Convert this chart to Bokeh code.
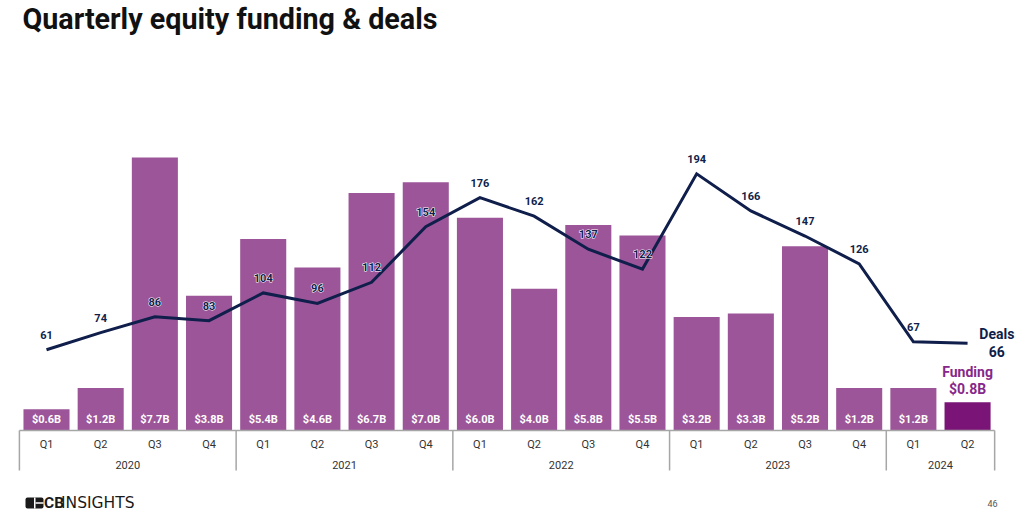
from bokeh.plotting import figure
from bokeh.models import Range1d, Label, BoxAnnotation, ColumnDataSource
from bokeh.core.properties import value
from bokeh.embed import file_html
from bokeh.resources import INLINE
import numpy as np

# ---- data -------------------------------------------------------------
quarters = ["Q1", "Q2", "Q3", "Q4", "Q1", "Q2", "Q3", "Q4", "Q1", "Q2", "Q3", "Q4",
            "Q1", "Q2", "Q3", "Q4", "Q1", "Q2"]
years = ["2020", "2021", "2022", "2023", "2024"]
quarters_per_year = [4, 4, 4, 4, 2]
funding_b = [0.6, 1.2, 7.7, 3.8, 5.4, 4.6, 6.7, 7.0, 6.0, 4.0, 5.8, 5.5,
             3.2, 3.3, 5.2, 1.2, 1.2, 0.8]
deals = [61, 74, 86, 83, 104, 96, 112, 154, 176, 162, 137, 122,
         194, 166, 147, 126, 67, 66]

# ---- layout constants (pixels) -----------------------------------------
W, H = 1024, 519
BASE_PX = 430            # baseline of the bars, from top
FIRST_X = 46             # centre of the first bar
STEP = 54.18             # distance between bar centres
PX_PER_B = 35.45         # pixels per $1B of funding
PX_PER_DEAL = 1.323      # pixels per deal

BAR_COLOR = "#9b5598"
LAST_COLOR = "#7a1577"
LINE_COLOR = "#0f1e4a"
FUND_TXT = "#87278a"
AXIS_GRAY = "#a6a6a6"
FONT = "Roboto"

n = len(funding_b)
x = np.arange(n)

p = figure(width=W, height=H, output_backend="svg", toolbar_location=None,
           x_axis_type=None, y_axis_type=None, min_border=0,
           x_range=Range1d(-FIRST_X / STEP, (W - FIRST_X) / STEP),
           y_range=Range1d(-(H - BASE_PX) / PX_PER_B, BASE_PX / PX_PER_B))
p.outline_line_color = None
p.grid.visible = False
p.background_fill_color = "white"
p.border_fill_color = "white"
p.extra_y_ranges = {"deals": Range1d(-(H - BASE_PX) / PX_PER_DEAL, BASE_PX / PX_PER_DEAL)}

colors = [BAR_COLOR] * (n - 1) + [LAST_COLOR]
src = ColumnDataSource(dict(x=x, funding=funding_b, deals=deals, color=colors))

# funding bars
p.vbar(x="x", top="funding", width=0.85, bottom=0, fill_color="color",
       line_color=None, source=src)

# funding values inside the bars (last bar is labelled at the right instead)
bar_lab = ColumnDataSource(dict(x=x[:-1], y=[0] * (n - 1),
                                t=[f"${v:.1f}B" for v in funding_b[:-1]]))
p.text(x="x", y="y", text="t", source=bar_lab, y_offset=-11,
       text_align="center", text_baseline="middle",
       text_font=value(FONT), text_font_style="bold", text_font_size="11px",
       text_color="white")

# deals line
p.line(x="x", y="deals", source=src, y_range_name="deals",
       line_color=LINE_COLOR, line_width=3, line_join="miter")

# deal counts: a white halo layer under the navy text
deal_lab = ColumnDataSource(dict(x=x[:-1], y=deals[:-1], t=[str(d) for d in deals[:-1]]))
common = dict(x="x", y="y", text="t", source=deal_lab, y_range_name="deals", y_offset=-15,
              text_align="center", text_baseline="middle",
              text_font=value(FONT), text_font_style="bold", text_font_size="11px")
p.text(text_color="white", text_outline_color="white", **common)
p.text(text_color=LINE_COLOR, **common)

# category axis: baseline, group separators, quarter and year labels
p.segment(x0=[-0.5], y0=[0], x1=[n - 0.5], y1=[0], line_color=AXIS_GRAY, line_width=1.5)
bounds = np.concatenate([[0], np.cumsum(quarters_per_year)]) - 0.5
sep_bottom = -40 / PX_PER_B
p.segment(x0=bounds, y0=[0] * len(bounds), x1=bounds, y1=[sep_bottom] * len(bounds),
          line_color=AXIS_GRAY, line_width=1.5)

q_src = ColumnDataSource(dict(x=x, y=[0] * n, t=quarters))
p.text(x="x", y="y", text="t", source=q_src, y_offset=14,
       text_align="center", text_baseline="middle",
       text_font=value(FONT), text_font_size="11px", text_color="#333333")

year_centers = (bounds[:-1] + bounds[1:]) / 2
y_src = ColumnDataSource(dict(x=year_centers, y=[0] * len(years), t=years))
p.text(x="x", y="y", text="t", source=y_src, y_offset=34,
       text_align="center", text_baseline="middle",
       text_font=value(FONT), text_font_size="11px", text_color="#333333")

# series call-outs at the right end
last = n - 1
p.text(x=[last + 0.54], y=[deals[last]], text=["Deals"], y_range_name="deals",
       y_offset=-9, text_align="center", text_baseline="middle",
       text_font=value(FONT), text_font_style="bold", text_font_size="14px",
       text_color=LINE_COLOR)
p.text(x=[last + 0.54], y=[deals[last]], text=[str(deals[last])], y_range_name="deals",
       y_offset=8, text_align="center", text_baseline="middle",
       text_font=value(FONT), text_font_style="bold", text_font_size="14px",
       text_color=LINE_COLOR)
p.text(x=[last], y=[funding_b[last]], text=["Funding"],
       y_offset=-30, text_align="center", text_baseline="middle",
       text_font=value(FONT), text_font_style="bold", text_font_size="14px",
       text_color=FUND_TXT)
p.text(x=[last], y=[funding_b[last]], text=[f"${funding_b[last]:.1f}B"],
       y_offset=-13, text_align="center", text_baseline="middle",
       text_font=value(FONT), text_font_style="bold", text_font_size="14px",
       text_color=FUND_TXT)

# title
p.add_layout(Label(x=22, y=H - 18, x_units="screen", y_units="screen",
                   text="Quarterly equity funding & deals",
                   text_font=FONT, text_font_style="bold", text_font_size="28.7px",
                   text_color="#111111", text_baseline="middle"))

# footer: logo mark, wordmark and page number
def screen_box(l, r, t, b, color, radius=0):
    return BoxAnnotation(left=l, right=r, top=H - t, bottom=H - b,
                         left_units="screen", right_units="screen",
                         top_units="screen", bottom_units="screen",
                         fill_color=color, fill_alpha=1, line_color=None,
                         border_radius=radius)

p.add_layout(screen_box(25, 43, 497, 508, "#1a1a1a", 2))
p.add_layout(screen_box(33.5, 35, 497, 508, "white"))
p.add_layout(screen_box(35, 43, 501.8, 503.2, "white"))
p.add_layout(Label(x=43.5, y=H - 502.5, x_units="screen", y_units="screen", text="CB",
                   text_font=FONT, text_font_style="bold", text_font_size="15.5px",
                   text_color="#1a1a1a", text_baseline="middle"))
p.add_layout(Label(x=60.5, y=H - 502.5, x_units="screen", y_units="screen", text="INSIGHTS",
                   text_font="DejaVu Sans", text_font_size="15.5px",
                   text_color="#1a1a1a", text_baseline="middle"))
p.add_layout(Label(x=992, y=H - 503, x_units="screen", y_units="screen", text="46",
                   text_font=FONT, text_font_size="9px", text_align="center",
                   text_color="#555555", text_baseline="middle"))

open("out.html", "w").write(file_html(p, INLINE))
